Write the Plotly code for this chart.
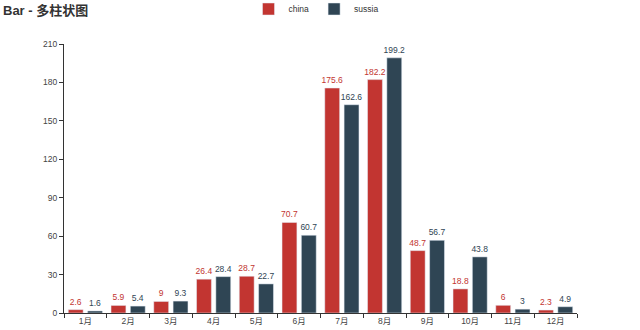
import plotly.graph_objects as go

months = ["1月", "2月", "3月", "4月", "5月", "6月", "7月", "8月", "9月", "10月", "11月", "12月"]
china = [2.6, 5.9, 9, 26.4, 28.7, 70.7, 175.6, 182.2, 48.7, 18.8, 6, 2.3]
sussia = [1.6, 5.4, 9.3, 28.4, 22.7, 60.7, 162.6, 199.2, 56.7, 43.8, 3, 4.9]
y_ticks = [0, 30, 60, 90, 120, 150, 180, 210]

FONT = "Liberation Sans, Arial, Noto Sans CJK SC, sans-serif"
C_CHINA = "#c23531"
C_SUSSIA = "#2f4554"

fig = go.Figure()
fig.add_trace(go.Bar(
    x=months, y=china, name="china", marker=dict(color=C_CHINA),
    text=[str(v) for v in china], textposition="outside", cliponaxis=False,
    constraintext="none",
    textfont=dict(color=C_CHINA, size=8.5, family=FONT),
))
fig.add_trace(go.Bar(
    x=months, y=sussia, name="sussia", marker=dict(color=C_SUSSIA),
    text=[str(v) for v in sussia], textposition="outside", cliponaxis=False,
    constraintext="none",
    textfont=dict(color=C_SUSSIA, size=8.5, family=FONT),
))

fig.update_layout(
    width=640, height=330,
    margin=dict(l=64, r=63, t=44, b=17, autoexpand=False),
    paper_bgcolor="white", plot_bgcolor="white",
    barmode="group", bargap=0.0957, bargroupgap=0.2307,
    font=dict(family=FONT, size=8.5, color="#444"),
    title=dict(text="<b>Bar - 多柱状图</b>", x=3/640, xref="container", xanchor="left",
               y=1 - 10/330, yref="container", yanchor="middle",
               font=dict(size=13, color="#333", family=FONT)),
    legend=dict(orientation="h", x=316/640, xanchor="center", xref="container",
                y=1 - 9/330, yref="container", yanchor="middle",
                font=dict(size=8.5, color="#333"), itemwidth=30, tracegroupgap=0),
)
fig.update_xaxes(
    type="category", showline=True, linecolor="#333", linewidth=1,
    ticks="outside", tickson="boundaries", ticklen=4, tickcolor="#333",
    showgrid=False, tickfont=dict(size=8.5, color="#444"), automargin=False,
)
fig.update_yaxes(
    range=[0, 210], tickvals=y_ticks, showline=True, linecolor="#333", linewidth=1,
    ticks="outside", ticklen=4, tickcolor="#333", showgrid=False, zeroline=False,
    tickfont=dict(size=8.5, color="#444"), automargin=False,
)

fig.write_html("out.html")
